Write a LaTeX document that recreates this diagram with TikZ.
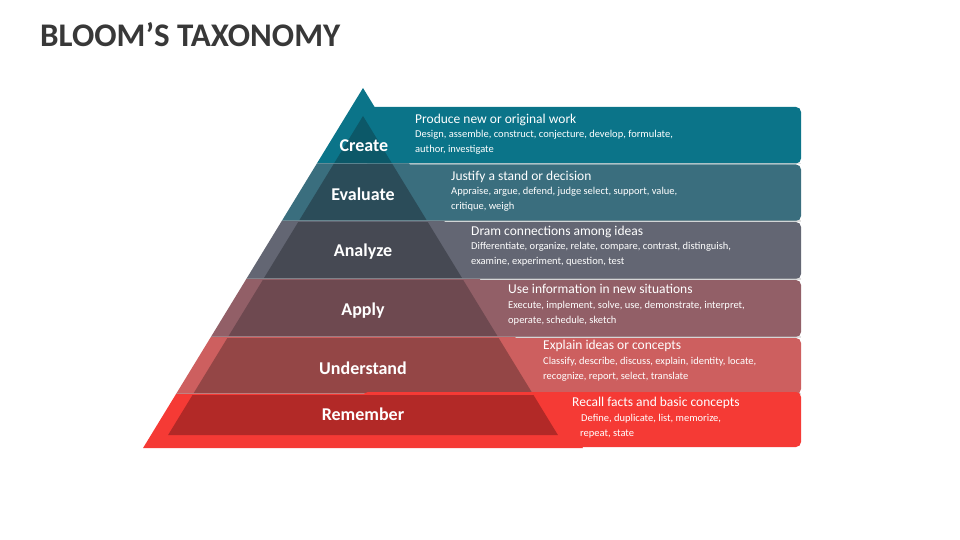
\documentclass[tikz,border=0pt]{standalone}
\usepackage{fontspec}
\setmainfont{Carlito}
\begin{document}
\begin{tikzpicture}[x=1pt,y=-1pt,
  lab/.style={text=white,font=\bfseries\fontsize{18}{20}\selectfont,anchor=center},
  head/.style={text=white,font=\fontsize{13.5}{15}\selectfont,anchor=base west,inner sep=0},
  det/.style={text=white,font=\fontsize{10.5}{12}\selectfont,anchor=base west,inner sep=0}]
\definecolor{c1}{HTML}{0B7489}\definecolor{d1}{HTML}{0C5868}
\definecolor{c2}{HTML}{3A6E7E}\definecolor{d2}{HTML}{2B4C59}
\definecolor{c3}{HTML}{636673}\definecolor{d3}{HTML}{464953}
\definecolor{c4}{HTML}{925F67}\definecolor{d4}{HTML}{6E4950}
\definecolor{c5}{HTML}{CD5F5F}\definecolor{d5}{HTML}{944646}
\definecolor{c6}{HTML}{F53A35}\definecolor{d6}{HTML}{B22927}
\useasboundingbox (0,0) rectangle (960,540);
\node[anchor=west,inner sep=0,text=black!78,font=\bfseries\fontsize{33}{36}\selectfont] (title) at (40,35) {BLOOM’S TAXONOMY};
% helper: band{ytop}{ybot}{boxtop}{col}{dark}{itop}{ibot}
\newcommand\mybandfill[7]{%
  \fill[#4,rounded corners=5] (363,#3) rectangle (801,#2);
  \fill[#4] ({363-0.611*(#1-88)},#1) -- ({363+0.611*(#1-88)},#1) -- ({363+0.611*(#2-88)},#2) -- ({363-0.611*(#2-88)},#2) -- cycle;
  \fill[#5] ({363-0.611*(#6-116)},#6) -- ({363+0.611*(#6-116)},#6) -- ({363+0.611*(#7-116)},#7) -- ({363-0.611*(#7-116)},#7) -- cycle;
  \draw[black!30,opacity=0.4,line width=1.2] ({363-0.611*(#2-88)},#2) -- (801,#2);}
\mybandfill{88}{163.5}{107}{c1}{d1}{116}{163}
\mybandfill{163.5}{221}{164.5}{c2}{d2}{164}{220}
\mybandfill{221}{279}{222}{c3}{d3}{222}{278}
\mybandfill{279}{337}{280}{c4}{d4}{280}{336}
\mybandfill{337}{394}{338}{c5}{d5}{338}{393}
\fill[c6,rounded corners=5] (363,392) rectangle (801,447);
\fill[c6] ({363-0.611*(394-88)},394) -- ({363+0.611*(394-88)},394) -- ({363+0.611*(448-88)},448) -- ({363-0.611*(448-88)},448) -- cycle;
\fill[d6] ({363-0.611*(395-116)},395) -- ({363+0.611*(395-116)},395) -- ({363+0.611*(435-116)},435) -- ({363-0.611*(435-116)},435) -- cycle;
% labels
\node[lab] (l1) at (364,146) {Create};
\node[lab] (l2) at (363,194) {Evaluate};
\node[lab] (l3) at (363,252) {Analyze};
\node[lab] (l4) at (363,311) {Apply};
\node[lab] (l5) at (363,368) {Understand};
\node[lab] (l6) at (363,414) {Remember};
% texts
\node[head] (h1) at (415,124) {Produce new or original work};
\node[det] (a1) at (415,138) {Design, assemble, construct, conjecture, develop, formulate,};
\node[det] (b1) at (415,153) {author, investigate};
\node[head] (h2) at (451,181) {Justify a stand or decision};
\node[det] (a2) at (451,194) {Appraise, argue, defend, judge select, support, value,};
\node[det] (b2) at (451,209) {critique, weigh};
\node[head] (h3) at (471,235) {Dram connections among ideas};
\node[det] (a3) at (471,249) {Differentiate, organize, relate, compare, contrast, distinguish,};
\node[det] (b3) at (471,264) {examine, experiment, question, test};
\node[head] (h4) at (508,293) {Use information in new situations};
\node[det] (a4) at (508,308) {Execute, implement, solve, use, demonstrate, interpret,};
\node[det] (b4) at (508,323) {operate, schedule, sketch};
\node[head] (h5) at (543,349) {Explain ideas or concepts};
\node[det] (a5) at (543,364) {Classify, describe, discuss, explain, identity, locate,};
\node[det] (b5) at (543,379) {recognize, report, select, translate};
\node[head] (h6) at (572,406) {Recall facts and basic concepts};
\node[det] (a6) at (581,421) {Define, duplicate, list, memorize,};
\node[det] (b6) at (580,436) {repeat, state};
\end{tikzpicture}
\end{document}
